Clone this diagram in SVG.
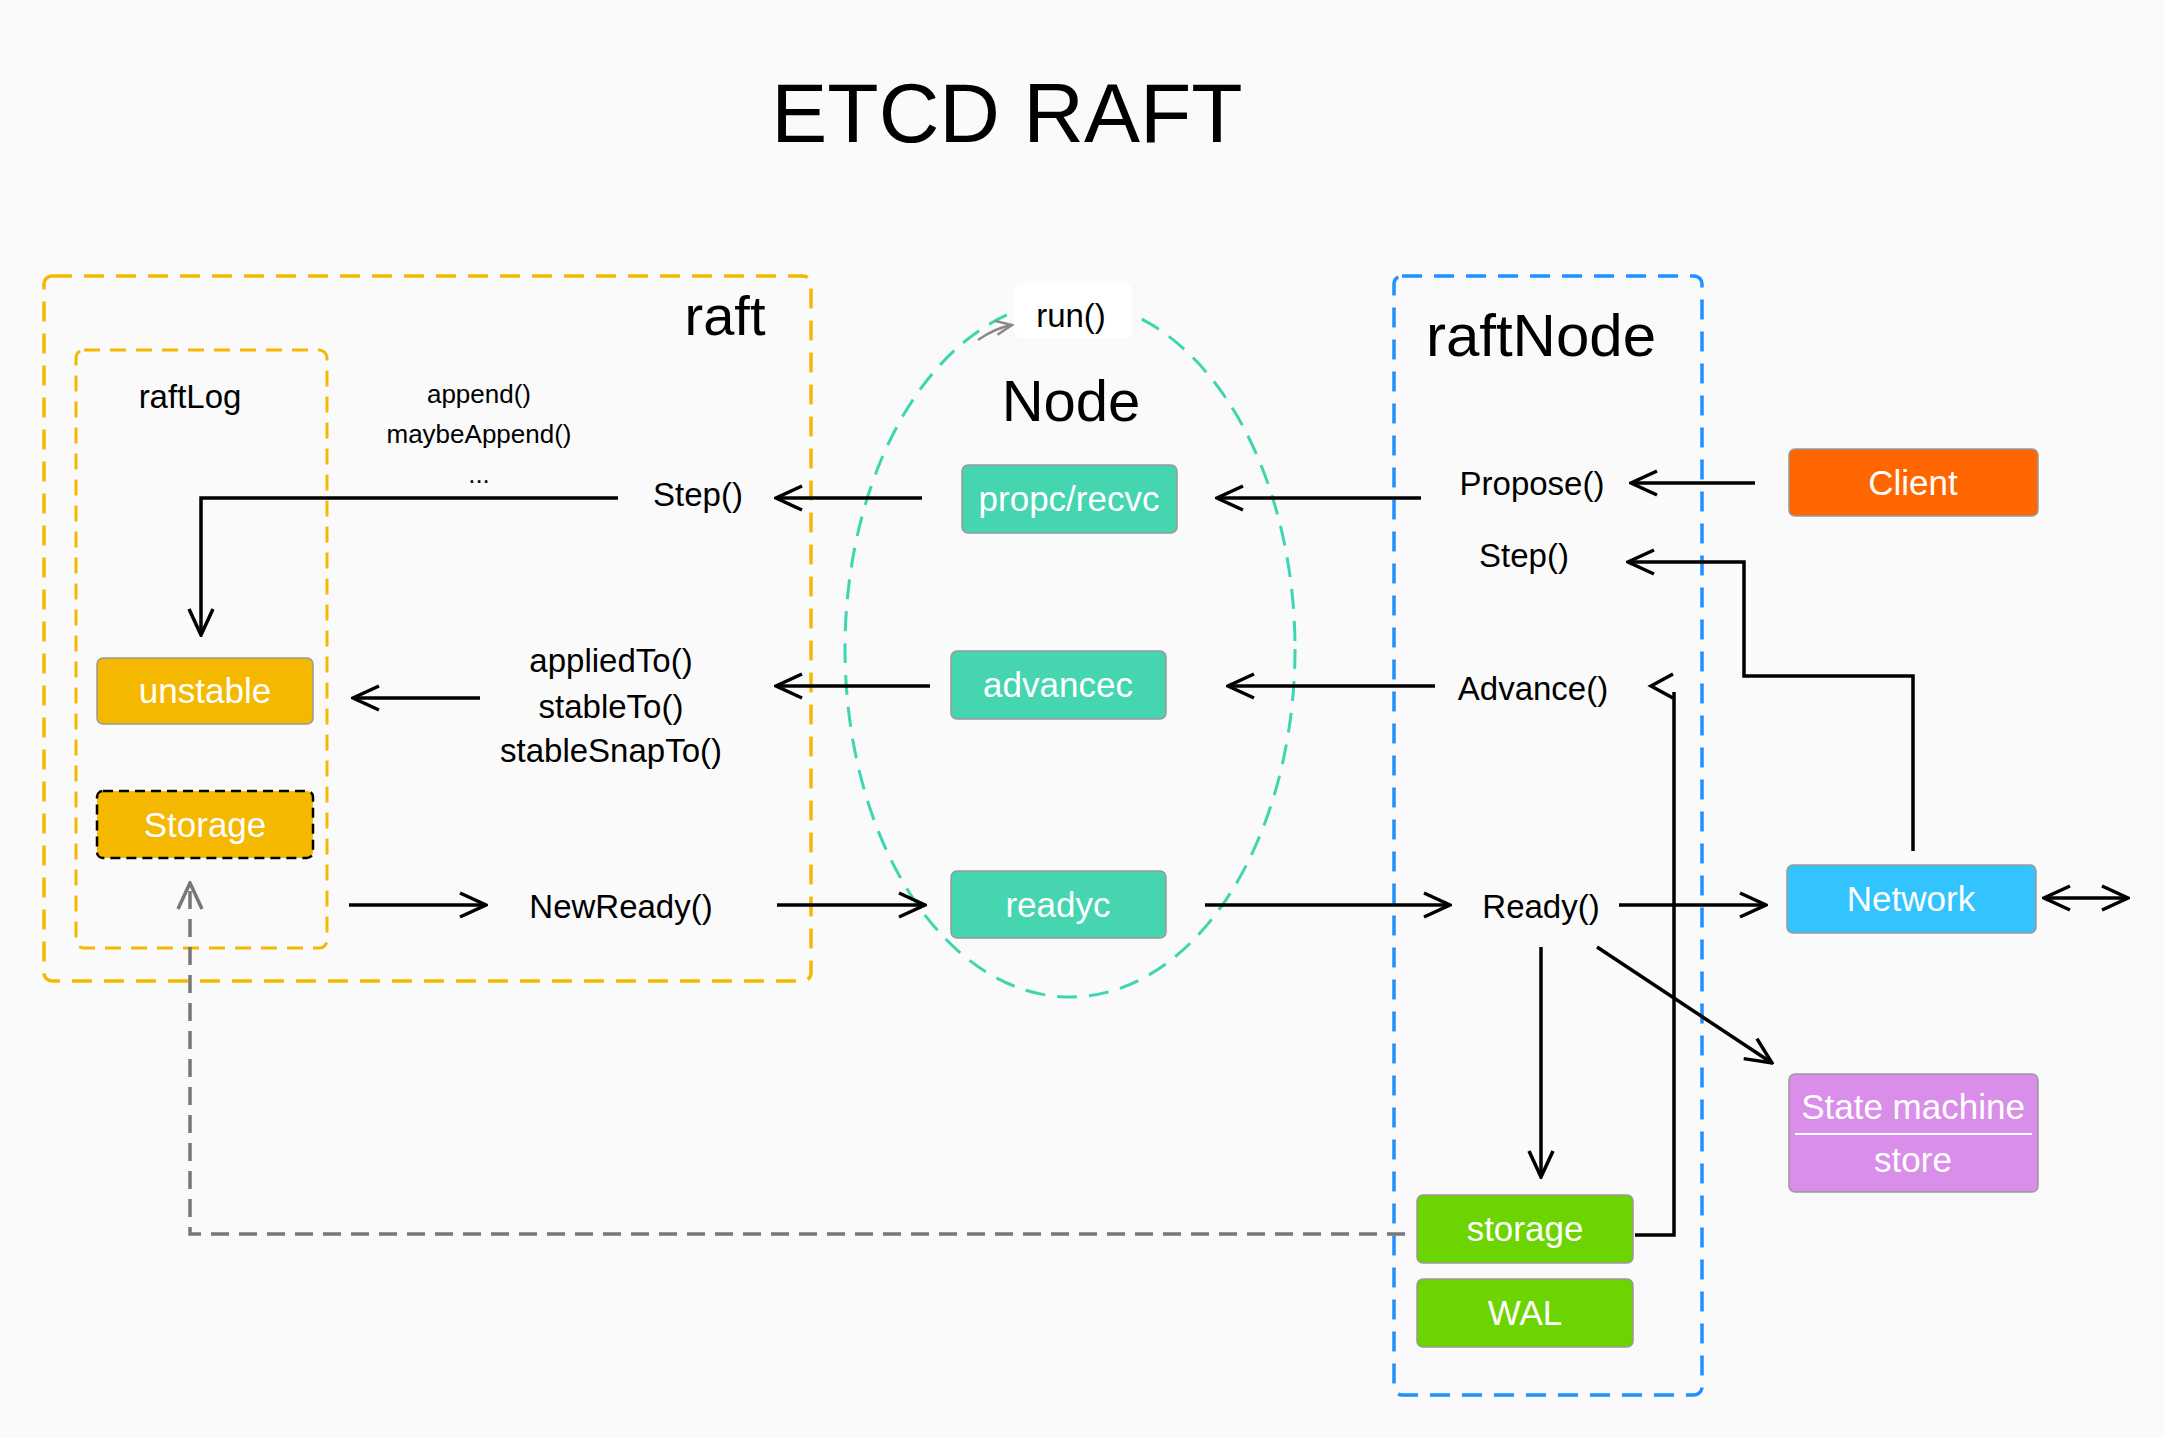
<svg xmlns="http://www.w3.org/2000/svg" width="2164" height="1438" viewBox="0 0 2164 1438">
<defs>
<marker id="a" viewBox="0 0 30 30" refX="28" refY="15" markerWidth="30" markerHeight="30" markerUnits="userSpaceOnUse" orient="auto"><path d="M2,3 L28,15 L2,27" fill="none" stroke="#000" stroke-width="3.5"/></marker>
<marker id="g" viewBox="0 0 30 30" refX="28" refY="15" markerWidth="30" markerHeight="30" markerUnits="userSpaceOnUse" orient="auto"><path d="M2,3 L28,15 L2,27" fill="none" stroke="#777" stroke-width="3.5"/></marker>
<marker id="s" viewBox="0 0 20 20" refX="18" refY="10" markerWidth="20" markerHeight="20" markerUnits="userSpaceOnUse" orient="auto"><path d="M2,3 L18,10 L2,17" fill="none" stroke="#888" stroke-width="2.5"/></marker>
<marker id="b" viewBox="0 0 30 30" refX="2" refY="15" markerWidth="30" markerHeight="30" markerUnits="userSpaceOnUse" orient="auto"><path d="M28,3 L2,15 L28,27" fill="none" stroke="#000" stroke-width="3.5"/></marker>
</defs>
<style>
text{font-family:"Liberation Sans",Arial,sans-serif;fill:#000;text-anchor:middle}
.t{font-size:33px}
.w{fill:#fff;font-size:35px}
.c{fill:none;stroke:#000;stroke-width:3.5;marker-end:url(#a)}
.box{stroke:#999;stroke-width:1.5}
</style>
<rect width="2164" height="1438" fill="#FAFAFA"/>
<text x="1007" y="142" font-size="84">ETCD RAFT</text>

<g id="raft">
<rect x="44" y="276" width="767" height="705" rx="8" fill="none" stroke="#F5B800" stroke-width="3.5" stroke-dasharray="20,12"/>
<text x="725" y="335" font-size="56">raft</text>
</g>
<g id="raftLog">
<rect x="76" y="350" width="251" height="598" rx="8" fill="none" stroke="#F5B800" stroke-width="3" stroke-dasharray="16,10"/>
<text x="190" y="408" class="t">raftLog</text>
</g>
<g id="unstable"><rect class="box" x="97" y="658" width="216" height="66" rx="6" fill="#F5B800"/><text class="w" x="205" y="703">unstable</text></g>
<g id="Storage"><rect x="97" y="791" width="216" height="67" rx="6" fill="#F5B800" stroke="#000" stroke-width="2.5" stroke-dasharray="10,6"/><text class="w" x="205" y="837">Storage</text></g>
<g id="labels-raft">
<text x="479" y="403" font-size="26">append()</text>
<text x="479" y="443" font-size="26">maybeAppend()</text>
<text x="479" y="483" font-size="26">...</text>
<text x="698" y="506" class="t">Step()</text>
<text x="611" y="672" class="t">appliedTo()</text>
<text x="611" y="718" class="t">stableTo()</text>
<text x="611" y="762" class="t">stableSnapTo()</text>
<text x="621" y="918" class="t">NewReady()</text>
</g>

<g id="Node">
<ellipse cx="1070" cy="649" rx="225" ry="348" fill="none" stroke="#3DD6B0" stroke-width="3" stroke-dasharray="20,12"/>
<rect x="1014" y="283" width="118" height="55" rx="8" fill="#fff"/>
<text x="1071" y="327" class="t">run()</text>
<path d="M978,340 Q995,328 1012,325" fill="none" stroke="#888" stroke-width="2.5" marker-end="url(#s)"/>
<text x="1071" y="421" font-size="58">Node</text>
</g>
<g id="propc"><rect class="box" x="962" y="465" width="215" height="68" rx="6" fill="#45D5B0"/><text class="w" x="1069" y="511">propc/recvc</text></g>
<g id="advancec"><rect class="box" x="951" y="651" width="215" height="68" rx="6" fill="#45D5B0"/><text class="w" x="1058" y="697">advancec</text></g>
<g id="readyc"><rect class="box" x="951" y="871" width="215" height="67" rx="6" fill="#45D5B0"/><text class="w" x="1058" y="917">readyc</text></g>

<g id="raftNode">
<rect x="1394" y="276" width="308" height="1119" rx="8" fill="none" stroke="#1E90FF" stroke-width="3.5" stroke-dasharray="20,12"/>
<text x="1541" y="356" font-size="60">raftNode</text>
<text x="1532" y="495" class="t">Propose()</text>
<text x="1524" y="567" class="t">Step()</text>
<text x="1533" y="700" class="t">Advance()</text>
<text x="1541" y="918" class="t">Ready()</text>
</g>
<g id="storage"><rect class="box" x="1417" y="1195" width="216" height="68" rx="6" fill="#6CD400"/><text class="w" x="1525" y="1241">storage</text></g>
<g id="WAL"><rect class="box" x="1417" y="1279" width="216" height="68" rx="6" fill="#6CD400"/><text class="w" x="1525" y="1325">WAL</text></g>
<g id="Client"><rect class="box" x="1789" y="449" width="249" height="67" rx="6" fill="#FF6600"/><text class="w" x="1913" y="495">Client</text></g>
<g id="Network"><rect class="box" x="1787" y="865" width="249" height="68" rx="6" fill="#33C4FF"/><text class="w" x="1911" y="911">Network</text></g>
<g id="StateMachine"><rect class="box" x="1789" y="1074" width="249" height="118" rx="6" fill="#D98FEA"/><text class="w" x="1913" y="1119">State machine</text><line x1="1795" y1="1134" x2="2032" y2="1134" stroke="#fff" stroke-width="2"/><text class="w" x="1913" y="1172">store</text></g>

<g id="connectors">
<path class="c" d="M618,498 H201 V635"/>
<path class="c" d="M922,498 H776"/>
<path class="c" d="M480,698 H353"/>
<path class="c" d="M930,686 H776"/>
<path class="c" d="M349,905 H486"/>
<path class="c" d="M777,905 H925"/>
<path d="M1405,1234 H190 V883" fill="none" stroke="#777" stroke-width="3.5" stroke-dasharray="18,10" marker-end="url(#g)"/>
<path class="c" d="M1421,498 H1217"/>
<path class="c" d="M1435,686 H1228"/>
<path class="c" d="M1205,905 H1450"/>
<path class="c" d="M1755,483 H1631"/>
<path class="c" d="M1913,851 V676 H1744 V562 H1628"/>
<path fill="none" stroke="#000" stroke-width="3.5" d="M1635,1235 H1674 V692"/>
<path fill="none" stroke="#000" stroke-width="3.5" d="M1673,674 L1651,686 L1673,698"/>
<path class="c" d="M1619,905 H1766"/>
<path class="c" d="M2044,898 H2128" marker-start="url(#b)"/>
<path class="c" d="M1597,947 L1772,1063"/>
<path class="c" d="M1541,947 V1177"/>
</g>
</svg>
